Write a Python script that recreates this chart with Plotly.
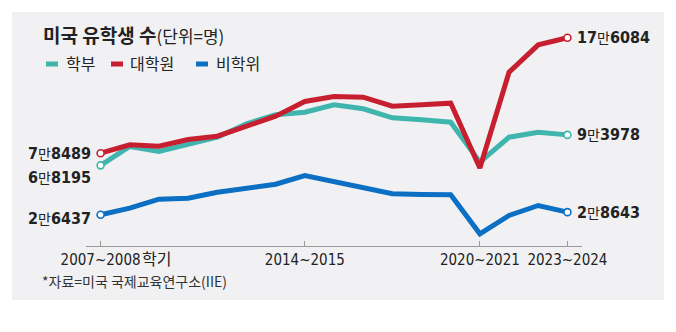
import plotly.graph_objects as go

# ---- data ----
years = ["2007~2008", "2008~2009", "2009~2010", "2010~2011", "2011~2012", "2012~2013",
         "2013~2014", "2014~2015", "2015~2016", "2016~2017", "2017~2018", "2018~2019",
         "2019~2020", "2020~2021", "2021~2022", "2022~2023", "2023~2024"]
undergrad = [68195, 84150, 79920, 86430, 92010, 103340, 110960, 113150, 119410, 116030,
             108420, 106730, 104700, 70870, 92010, 96240, 93978]
graduate = [78489, 85600, 84400, 90070, 92860, 101300, 109770, 122200, 126500, 125840,
            118230, 119410, 120770, 66000, 147000, 170150, 176084]
nondegree = [26437, 31970, 39580, 40420, 45500, 49220, 52260, 59620, 54720, 49730,
             44150, 43550, 43300, 10300, 25790, 34250, 28643]
tick_idx = [0, 7, 13, 16]
tick_text = ["2007~2008", "2014~2015", "2020~2021", "2023~2024"]
series_names = ["학부", "대학원", "비학위"]
colors = ["#3fb5ae", "#c81f30", "#0b6fc3"]

W, H = 676, 332
ml, mr, mt, mb = 86, 94, 20, 86
PPX = 845.7  # value units per pixel


def px(x):
    return (x - ml) / (W - ml - mr)


def py(y):
    return (H - mb - y) / (H - mt - mb)


NUM_FONT = "DejaVu Sans Condensed, Liberation Sans Narrow, Noto Sans CJK KR, sans-serif"
KR_FONT = "Noto Sans CJK KR, Noto Sans, sans-serif"

fig = go.Figure()
xs = list(range(len(years)))
all_series = [undergrad, graduate, nondegree]
order = [2, 0, 1]
for i in order:
    vals = all_series[i]
    fig.add_trace(go.Scatter(x=xs, y=vals, mode="lines", name=series_names[i],
                             line=dict(color=colors[i], width=5, shape="linear"),
                             hoverinfo="skip", showlegend=False))
for i in order:
    vals = all_series[i]
    fig.add_trace(go.Scatter(x=[xs[0], xs[-1]], y=[vals[0], vals[-1]], mode="markers",
                             marker=dict(symbol="circle", size=7, color="white",
                                         line=dict(color=colors[i], width=1.6)),
                             hoverinfo="skip", showlegend=False))


def fmt(v):
    return (f"<b>{v // 10000}</b><span style='font-size:14px'>만</span>"
            f"<b>{v % 10000:04d}</b>")


annotations = []
left_shift = {0: -12, 1: 0, 2: -4}
for i in range(3):
    vals = all_series[i]
    annotations.append(dict(x=xs[0], y=vals[0], xref="x", yref="y", text=fmt(vals[0]),
                            xanchor="right", yanchor="middle", xshift=-8, yshift=left_shift[i],
                            showarrow=False, font=dict(family=NUM_FONT, size=16, color="#222")))
    annotations.append(dict(x=xs[-1], y=vals[-1], xref="x", yref="y", text=fmt(vals[-1]),
                            xanchor="left", yanchor="middle", xshift=8, yshift=0,
                            showarrow=False, font=dict(family=NUM_FONT, size=16, color="#222")))

# suffix after first tick label
annotations.append(dict(x=0, y=py(258), xref="x", yref="paper", text="학기", xanchor="left",
                        yanchor="middle", xshift=39, showarrow=False,
                        font=dict(family=KR_FONT, size=16, color="#222")))

# title
annotations.append(dict(x=px(41), y=py(34), xref="paper", yref="paper", xanchor="left", yanchor="middle",
                        text="<b>미국 유학생 수</b><span style='font-size:17px;'>(단위=명)</span>",
                        showarrow=False, font=dict(family=KR_FONT, size=19, color="#222")))
# legend
leg_items = [(0, 46, 64), (1, 111, 128), (2, 196, 214)]
shapes = [dict(type="rect", xref="paper", yref="paper", x0=px(12), x1=px(664), y0=py(300), y1=py(12),
               fillcolor="#f1f1f3", line=dict(width=0), layer="below")]
for i, sx, tx in leg_items:
    shapes.append(dict(type="line", xref="paper", yref="paper", x0=px(sx), x1=px(sx + 12),
                       y0=py(64), y1=py(64), line=dict(color=colors[i], width=5)))
    annotations.append(dict(x=px(tx), y=py(63), xref="paper", yref="paper", xanchor="left",
                            yanchor="middle", text=series_names[i], showarrow=False,
                            font=dict(family=KR_FONT, size=16, color="#222")))
# source
annotations.append(dict(x=px(40), y=py(281), xref="paper", yref="paper", xanchor="left", yanchor="middle",
                        text="*자료=미국 국제교육연구소(IIE)", showarrow=False,
                        font=dict(family=KR_FONT, size=14, color="#333")))

fig.update_layout(
    width=W, height=H, margin=dict(l=ml, r=mr, t=mt, b=mb),
    paper_bgcolor="white", plot_bgcolor="rgba(0,0,0,0)",
    shapes=shapes, annotations=annotations, showlegend=False,
    xaxis=dict(range=[-0.5, 16.5], tickmode="array", tickvals=tick_idx, ticktext=tick_text,
               tickangle=0, showgrid=False, zeroline=False, showline=True, linecolor="#9a9a9a",
               linewidth=1, ticks="inside", ticklen=5, tickcolor="#9a9a9a", tickwidth=1,
               tickfont=dict(family=NUM_FONT, size=15, color="#222"), fixedrange=True),
    yaxis=dict(range=[0, (H - mt - mb) * PPX], showgrid=False, zeroline=False, showline=False,
               showticklabels=False, ticks="", fixedrange=True),
)

fig.write_html("out.html")
